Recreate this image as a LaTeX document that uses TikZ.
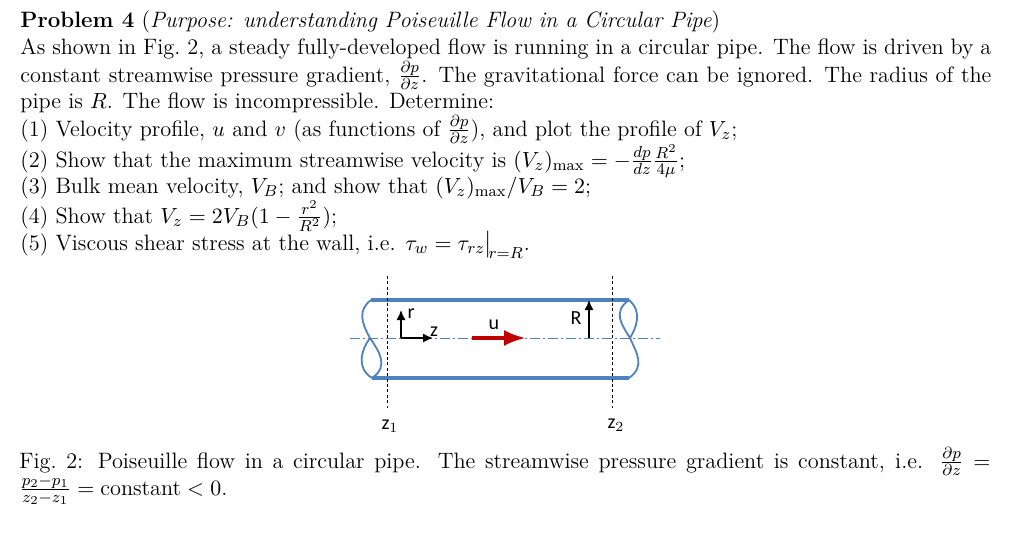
\documentclass[tikz,border=0pt]{standalone}
\usepackage{amsmath}
\usepackage{fontspec}
\newfontfamily\labelfont{Carlito}
\usetikzlibrary{arrows.meta}
\definecolor{pipeblue}{RGB}{79,129,189}
\definecolor{flowred}{RGB}{192,0,0}
\tikzset{
  txt/.style={anchor=base west,inner sep=0pt,font=\fontsize{11.14}{13.6}\selectfont},
  lbl/.style={anchor=base,inner sep=0pt,font=\labelfont\fontsize{10}{12}\selectfont},
  wall/.style={draw=pipeblue,line width=1.8pt},
  rim/.style={draw=pipeblue,line width=0.9pt},
  axisline/.style={draw=pipeblue,line width=0.4pt,dash pattern=on 5pt off 1.5pt on 1pt off 1.5pt},
  section/.style={draw=black,line width=0.5pt,dash pattern=on 1.5pt off 1.2pt},
  blackarrow/.style={draw=black,line width=0.7pt,-{Latex[length=5pt,width=4.5pt]}},
  redarrow/.style={draw=flowred,line width=2pt,-{Latex[length=11pt,width=8pt]}}
}
\newcommand{\fullline}[1]{\makebox[485.5pt][s]{#1}}
\begin{document}
\begin{tikzpicture}[x=0.5pt,y=-0.5pt]
        \useasboundingbox (0,0) rectangle (1014,552);
        % problem text
        \node[txt] (title) at (20,27) {\textbf{Problem 4} (\textit{Purpose: understanding Poiseuille Flow in a Circular Pipe})};
        \node[txt] (line1) at (20,54) {\fullline{As shown in Fig.~2, a steady fully-developed flow is running in a circular pipe. The flow is driven by a}};
        \node[txt] (line2) at (20,82) {\fullline{constant streamwise pressure gradient, $\frac{\partial p}{\partial z}$. The gravitational force can be ignored. The radius of the}};
        \node[txt] (line3) at (20,108) {pipe is $R$. The flow is incompressible. Determine:};
        \node[txt] (item1) at (20,136) {(1) Velocity profile, $u$ and $v$ (as functions of $\frac{\partial p}{\partial z}$), and plot the profile of $V_z$;};
        \node[txt] (item2) at (20,167) {(2) Show that the maximum streamwise velocity is $(V_z)_{\max}=-\frac{dp}{dz}\frac{R^2}{4\mu}$;};
        \node[txt] (item3) at (20,193) {(3) Bulk mean velocity, $V_B$; and show that $(V_z)_{\max}/V_B=2$;};
        \node[txt] (item4) at (20,223) {(4) Show that $V_z=2V_B(1-\frac{r^2}{R^2})$;};
        \node[txt] (item5) at (20,250) {(5) Viscous shear stress at the wall, i.e. $\tau_w=\tau_{rz}\big|_{\mkern-4mu r=R}$.};
        % pipe
        \coordinate (topL) at (371,300);
        \coordinate (topR) at (629,300);
        \coordinate (botL) at (372,378);
        \coordinate (botR) at (629,378);
        \coordinate (midL) at (370,338);
        \coordinate (midR) at (630,338);
        \coordinate (axisL) at (350,338);
        \coordinate (axisR) at (660,338);
        \draw[axisline] (axisL) -- (axisR);
        \draw[wall] (topL) -- (topR);
        \draw[wall] (botL) -- (botR);
        \draw[rim] (topL) .. controls (358,310) and (361,322) .. (midL);
        \draw[rim] (midL) .. controls (378,350) and (390,366) .. (botL);
        \draw[rim] (midL) .. controls (361,350) and (356,368) .. (botL);
        \draw[rim] (topR) .. controls (612,312) and (622,325) .. (midR);
        \draw[rim] (topR) .. controls (643,312) and (636,328) .. (midR);
        \draw[rim] (midR) .. controls (636,352) and (646,366) .. (botR);
        % sections
        \coordinate (sec1top) at (387,276);
        \coordinate (sec1bot) at (387,408);
        \coordinate (sec2top) at (612,276);
        \coordinate (sec2bot) at (612,408);
        \draw[section] (sec1top) -- (sec1bot);
        \draw[section] (sec2top) -- (sec2bot);
        \node[lbl] (z1) at (390,429) {z$_1$};
        \node[lbl] (z2) at (616,428) {z$_2$};
        % axes
        \coordinate (orig) at (401,338);
        \coordinate (rtip) at (401,310);
        \coordinate (ztip) at (433,338);
        \draw[blackarrow] (orig) -- (rtip);
        \draw[blackarrow] (orig) -- (ztip);
        \node[lbl] (rlabel) at (411,318) {r};
        \node[lbl] (zlabel) at (434,336) {z};
        % velocity
        \coordinate (ustart) at (472,338);
        \coordinate (uend) at (526,338);
        \draw[redarrow] (ustart) -- (uend);
        \node[lbl] (ulabel) at (494,329) {u};
        % radius
        \coordinate (Rstart) at (589,338);
        \coordinate (Rend) at (589,300);
        \draw[blackarrow] (Rstart) -- (Rend);
        \node[lbl] (Rlabel) at (576,324) {R};
        % caption
        \node[txt] (cap1) at (19,468) {\fullline{Fig.~2: Poiseuille flow in a circular pipe. The streamwise pressure gradient is constant, i.e. $\frac{\partial p}{\partial z}=$}};
        \node[txt] (cap2) at (19,495) {$\frac{p_2-p_1}{z_2-z_1}=\text{constant}<0$.};
\end{tikzpicture}
\end{document}
